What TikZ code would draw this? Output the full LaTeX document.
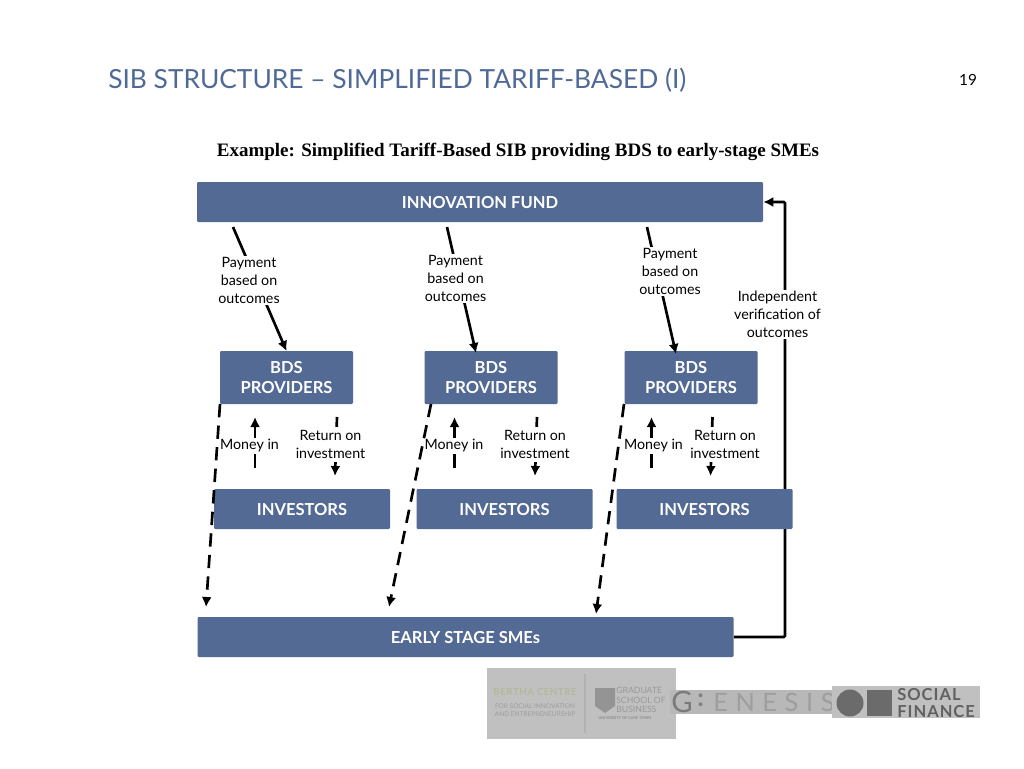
\documentclass[tikz,border=0pt]{standalone}
\usepackage{fontspec}
\setmainfont{Lato}
\newfontfamily\headfont{Liberation Serif}
\usetikzlibrary{arrows.meta,backgrounds}
\definecolor{boxblue}{HTML}{536A94}
\definecolor{titleblue}{HTML}{4F6A96}
\definecolor{logogrey}{HTML}{C0C0C0}
\definecolor{berthaolive}{HTML}{B4B89A}
\tikzset{
  x=0.75pt,y=-0.75pt,
  bluebox/.style={fill=boxblue,draw=none,rounded corners=0.8pt,text=white,font=\fontsize{12.4}{14.4}\selectfont\bfseries,align=center,inner sep=0pt,anchor=center},
  lbl/.style={fill=white,inner sep=1pt,align=center,font=\fontsize{10.7}{13.5}\selectfont,text=black},
  flow/.style={line width=2pt,draw=black,-{Latex[length=7.5pt,width=7.5pt]}},
  dashflow/.style={line width=2pt,draw=black,dash pattern=on 10pt off 6.2pt,-{Latex[length=7.5pt,width=7.5pt]}},
  logo/.style={fill=logogrey,draw=none,inner sep=0pt},
}
\begin{document}
\begin{tikzpicture}
\useasboundingbox (0,0) rectangle (1024,768);
% title
\node[anchor=west,inner sep=0pt,text=titleblue,font=\fontsize{19.75}{22}\selectfont] (title) at (108,80.5) {SIB STRUCTURE – SIMPLIFIED TARIFF-BASED (I)};
\node[inner sep=0pt,font=\fontsize{11.5}{14}\selectfont] (pagenum) at (968,80) {19};
\node[inner sep=0pt,font=\headfont\fontsize{14.25}{16}\selectfont\bfseries] (head) at (518,151.5) {Example: Simplified Tariff-Based SIB providing BDS to early-stage SMEs};
% boxes
\node[bluebox,minimum width=424.5pt,minimum height=30pt] (fund) at (480,202) {};
\node[inner sep=0pt,text=white,font=\fontsize{12.4}{14.4}\selectfont\bfseries] (fundt) at (480,203) {INNOVATION FUND};
\node[bluebox,minimum width=99.75pt,minimum height=39.75pt] (bdsa) at (286.5,377.5) {BDS\\PROVIDERS};
\node[bluebox,minimum width=99.75pt,minimum height=39.75pt] (bdsb) at (491,377.5) {BDS\\PROVIDERS};
\node[bluebox,minimum width=99.75pt,minimum height=39.75pt] (bdsc) at (691,377.5) {BDS\\PROVIDERS};
\node[bluebox,minimum width=132pt,minimum height=30pt] (inva) at (302,509) {};
\node[inner sep=0pt,text=white,font=\fontsize{12.4}{14.4}\selectfont\bfseries] (invat) at (302,510) {INVESTORS};
\node[bluebox,minimum width=132pt,minimum height=30pt] (invb) at (504.5,509) {};
\node[inner sep=0pt,text=white,font=\fontsize{12.4}{14.4}\selectfont\bfseries] (invbt) at (504.5,510) {INVESTORS};
\node[bluebox,minimum width=132pt,minimum height=30pt] (invc) at (704.5,509) {};
\node[inner sep=0pt,text=white,font=\fontsize{12.4}{14.4}\selectfont\bfseries] (invct) at (704.5,510) {INVESTORS};
\node[bluebox,minimum width=402pt,minimum height=30pt] (sme) at (465.5,637) {};
\node[inner sep=0pt,text=white,font=\fontsize{12.4}{14.4}\selectfont\bfseries] (smet) at (465.5,638) {EARLY STAGE SMEs};
% free ends
\coordinate (pa) at (233,227); \coordinate (pae) at (286.5,351);
\coordinate (pb) at (447,227); \coordinate (pbe) at (476,353);
\coordinate (pc) at (647,227); \coordinate (pce) at (676,354);
\coordinate (da) at (220,404); \coordinate (dae) at (206,607);
\coordinate (db) at (431,404); \coordinate (dbe) at (389,607);
\coordinate (dc) at (624,404); \coordinate (dce) at (596,614);
\coordinate (ma) at (255,468); \coordinate (mae) at (255,417);
\coordinate (mb) at (454.5,468); \coordinate (mbe) at (454.5,417);
\coordinate (mc) at (651.5,468); \coordinate (mce) at (651.5,417);
\coordinate (ra) at (337,417); \coordinate (rae) at (335,476);
\coordinate (rb) at (537,417); \coordinate (rbe) at (535,476);
\coordinate (rc) at (712.5,417); \coordinate (rce) at (710.5,476);
\coordinate (fbk) at (785,202);
% feedback connector behind the boxes
\begin{scope}[on background layer]
\fill[white] (0,0) rectangle (1024,768);
\draw[flow,rounded corners=1pt] (sme.east |- sme.center) -| (fbk) -- (fund.east |- fund.center);
\end{scope}
% connectors
\draw[flow] (pa) -- (pae);
\draw[flow] (pb) -- (pbe);
\draw[flow] (pc) -- (pce);
\draw[flow] (ma) -- (mae);
\draw[flow] (mb) -- (mbe);
\draw[flow] (mc) -- (mce);
\draw[flow] (ra) -- (rae);
\draw[flow] (rb) -- (rbe);
\draw[flow] (rc) -- (rce);
% labels
\node[lbl] (la) at (249,280) {Payment\\based on\\outcomes};
\node[lbl] (lb) at (455.5,278) {Payment\\based on\\outcomes};
\node[lbl] (lc) at (670,271) {Payment\\based on\\outcomes};
\node[lbl] (lv) at (777.5,314.5) {Independent\\verification of\\outcomes};
\node[lbl,inner xsep=0pt] (mia) at (249.5,446) {Money in};
\node[lbl,inner xsep=0pt] (mib) at (454,446) {Money in};
\node[lbl,inner xsep=0pt] (mic) at (653.5,446) {Money in};
\node[lbl,inner ysep=2.5pt] (ria) at (330.5,444) {Return on\\investment};
\node[lbl,inner ysep=2.5pt] (rib) at (535,444) {Return on\\investment};
\node[lbl,inner ysep=2.5pt] (ric) at (725,444) {Return on\\investment};
% dashed connectors
\draw[dashflow] (da) -- (dae);
\draw[dashflow] (db) -- (dbe);
\draw[dashflow] (dc) -- (dce);
% logos
\fill[logo] (487,668) rectangle (676,739);
\draw[draw=black!30,line width=0.8pt] (585,674) -- (585,733);
\node[inner sep=0pt,text=berthaolive,font=\fontsize{7.2}{8}\selectfont\bfseries\addfontfeature{LetterSpace=6}] (bertha) at (535,692) {BERTHA CENTRE};
\node[inner sep=0pt,text=black!38,align=center,font=\fontsize{4.9}{6.2}\selectfont] (social) at (535,710) {FOR SOCIAL INNOVATION\\AND ENTREPRENEURSHIP};
\fill[black!42] (595,688) -- (615,688) -- (615,706) -- (605,713) -- (595,706) -- cycle;
\node[inner sep=0pt,text=black!40,align=left,anchor=west,font=\fontsize{6.5}{7}\selectfont] (gsb) at (616,700) {GRADUATE\\SCHOOL OF\\BUSINESS};
\node[inner sep=0pt,text=black!45,font=\fontsize{2.9}{4}\selectfont\bfseries] (uct) at (625,718) {UNIVERSITY OF CAPE TOWN};
\fill[fill=black!28] (670,690) rectangle (832,714);
\node[inner sep=0pt,anchor=west,text=black!52,font=\fontsize{22}{22}\selectfont] (gen) at (671,702) {G};
\node[inner sep=0pt,anchor=west,text=black!50,font=\fontsize{19}{20}\selectfont\bfseries] (gencolon) at (697,700) {:};
\node[inner sep=0pt,anchor=west,text=black!38,font=\fontsize{19}{20}\selectfont\addfontfeature{LetterSpace=30}] (genes) at (713,702) {ENESIS};
\fill[logo] (832,686) rectangle (980,718);
\fill[black!58] (850,703) circle (13.5);
\fill[black!58] (867,690) rectangle (892,716);
\node[inner sep=0pt,anchor=west,align=left,text=black!62,font=\fontsize{12.4}{12.2}\selectfont\bfseries\addfontfeature{LetterSpace=6}] (sf) at (897,703) {SOCIAL\\FINANCE};
\end{tikzpicture}
\end{document}
